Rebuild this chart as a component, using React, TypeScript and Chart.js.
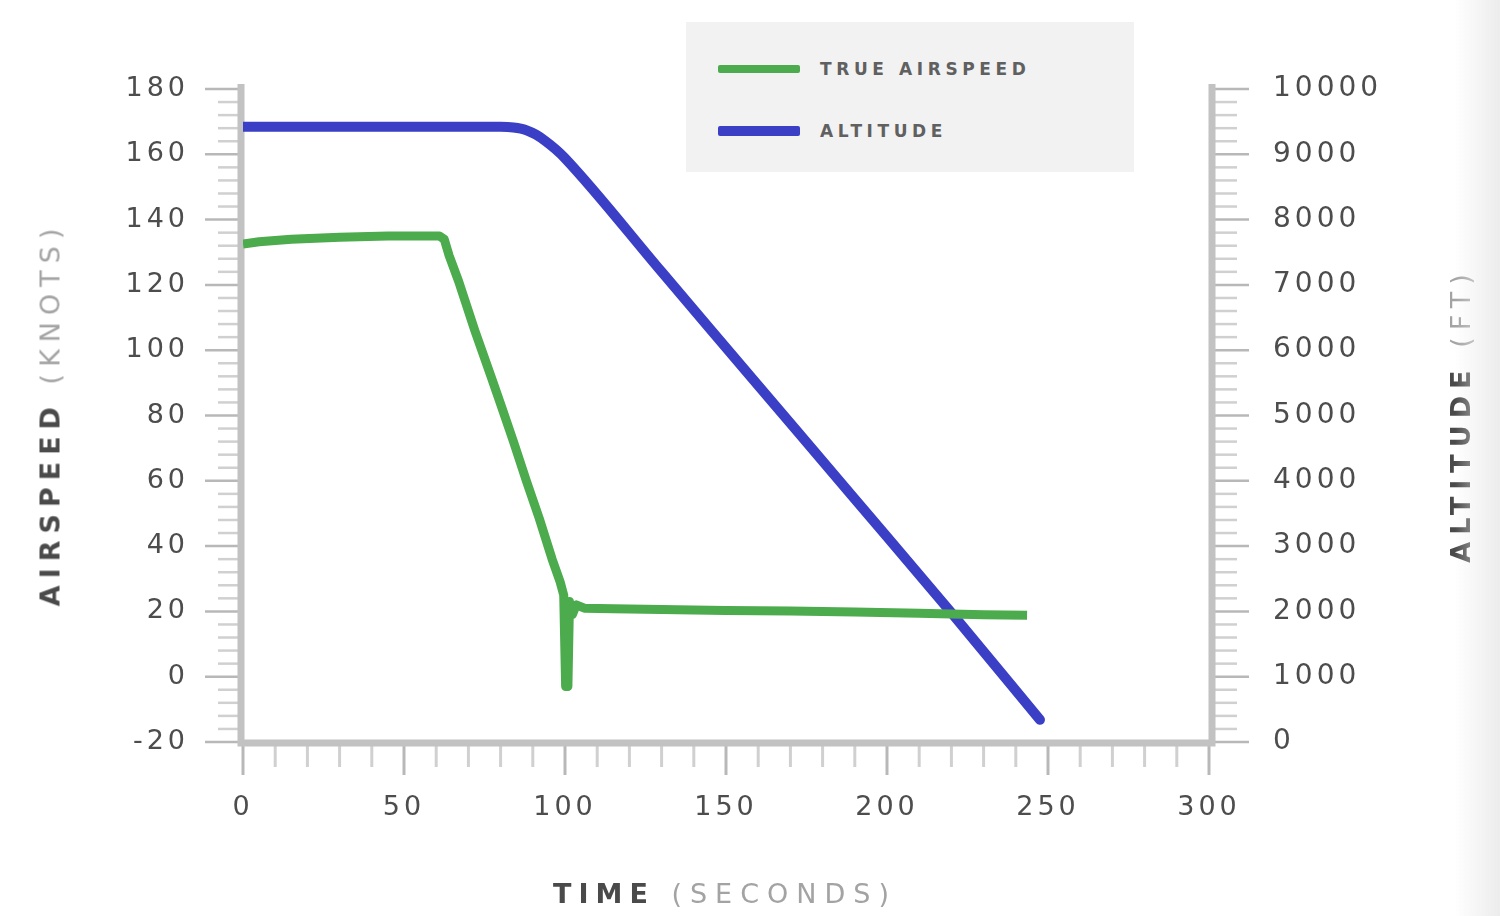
import React, { useEffect, useRef } from "react";
import { Chart, registerables } from "chart.js";

Chart.register(...registerables);

// ---- data ----
const airspeedTime = [0, 5, 15, 30, 45, 55, 61, 62.5, 64, 67, 72, 77, 80, 84, 88, 92, 96, 98.5, 99.6, 100.2, 100.9, 101.4, 102.3, 103.5, 106, 115, 130, 150, 170, 190, 210, 230, 243.5];
const airspeedKnots = [132.5, 133.2, 134, 134.6, 135, 135, 135, 134, 129, 121, 106, 92, 83.5, 72, 60, 48.5, 36, 29, 25, -3, -3, 23, 19, 22, 21, 20.8, 20.6, 20.3, 20.1, 19.8, 19.4, 19, 18.8];

const altitudeTime = [0, 20, 40, 60, 80, 84, 88, 91, 94, 97, 100, 130, 160, 190, 220, 247.5];
const altitudeFt = [9420, 9420, 9420, 9420, 9420, 9410, 9370, 9300, 9200, 9080, 8940, 7200, 5460, 3720, 1980, 340];

const xTickValues = [0, 50, 100, 150, 200, 250, 300];
const leftTickValues = [-20, 0, 20, 40, 60, 80, 100, 120, 140, 160, 180];
const rightTickValues = [0, 1000, 2000, 3000, 4000, 5000, 6000, 7000, 8000, 9000, 10000];

const seriesNames = ["TRUE AIRSPEED", "ALTITUDE"];
const seriesColors = ["#4cab4c", "#3a3fc6"];

const AXIS_COLOR = "#c2c2c2";
const MAJOR_TICK = "#b8b8b8";
const MINOR_TICK = "#d0d0d0";
const LABEL_COLOR = "#4d4d4d";

const axisPlugin = {
  id: "customAxes",
  beforeDraw(chart: any) {
    chart.ctx.letterSpacing = "4px";
  },
  beforeDatasetsDraw(chart: any) {
    const { ctx, chartArea, scales } = chart;
    const xs = scales.x;
    const yl = scales.y;
    const yr = scales.y1;
    ctx.save();
    ctx.lineCap = "butt";
    for (let v = -20; v <= 180; v += 4) {
      const p = yl.getPixelForValue(v);
      const major = v % 20 === 0;
      ctx.strokeStyle = major ? MAJOR_TICK : MINOR_TICK;
      ctx.lineWidth = 2.5;
      ctx.beginPath();
      ctx.moveTo(major ? chartArea.left - 38 : chartArea.left - 25, p);
      ctx.lineTo(chartArea.left - 4, p);
      ctx.stroke();
    }
    for (let v = 0; v <= 10000; v += 200) {
      const p = yr.getPixelForValue(v);
      const major = v % 1000 === 0;
      ctx.strokeStyle = major ? MAJOR_TICK : MINOR_TICK;
      ctx.lineWidth = 2.5;
      ctx.beginPath();
      ctx.moveTo(chartArea.right + 5, p);
      ctx.lineTo(major ? chartArea.right + 40 : chartArea.right + 28, p);
      ctx.stroke();
    }
    for (let v = 0; v <= 300; v += 10) {
      const p = xs.getPixelForValue(v);
      const major = v % 50 === 0;
      ctx.strokeStyle = major ? MAJOR_TICK : MINOR_TICK;
      ctx.lineWidth = 3;
      ctx.beginPath();
      ctx.moveTo(p, chartArea.bottom + 1);
      ctx.lineTo(p, major ? chartArea.bottom + 33 : chartArea.bottom + 25);
      ctx.stroke();
    }
    ctx.strokeStyle = AXIS_COLOR;
    ctx.lineWidth = 7;
    ctx.beginPath();
    ctx.moveTo(chartArea.left - 2, chartArea.top - 5);
    ctx.lineTo(chartArea.left - 2, chartArea.bottom + 1);
    ctx.lineTo(chartArea.right + 3, chartArea.bottom + 1);
    ctx.lineTo(chartArea.right + 3, chartArea.top - 5);
    ctx.stroke();
    ctx.restore();
  },
};

export default function App() {
  const canvasRef = useRef<HTMLCanvasElement | null>(null);

  useEffect(() => {
    document.body.style.margin = "0";
    const canvas = canvasRef.current;
    if (!canvas) return;
    const tickFont = { family: "'DejaVu Sans', sans-serif", size: 27 };
    const plain = (v: any) => String(v);
    const chart = new Chart(canvas, {
      type: "line",
      data: {
        datasets: [
          {
            label: seriesNames[0],
            data: airspeedTime.map((t, i) => ({ x: t, y: airspeedKnots[i] })),
            borderColor: seriesColors[0],
            backgroundColor: seriesColors[0],
            borderWidth: 9,
            pointRadius: 0,
            tension: 0,
            borderCapStyle: "butt",
            borderJoinStyle: "round",
            yAxisID: "y",
          },
          {
            label: seriesNames[1],
            data: altitudeTime.map((t, i) => ({ x: t, y: altitudeFt[i] })),
            borderColor: seriesColors[1],
            backgroundColor: seriesColors[1],
            borderWidth: 10,
            pointRadius: 0,
            cubicInterpolationMode: "monotone",
            borderCapStyle: "round",
            yAxisID: "y1",
          },
        ],
      },
      options: {
        responsive: false,
        animation: false,
        devicePixelRatio: 1,
        layout: { padding: { top: 89, left: 0, right: 0, bottom: 0 } },
        plugins: { legend: { display: false }, tooltip: { enabled: false }, title: { display: false } },
        scales: {
          x: {
            type: "linear",
            position: "bottom",
            min: 0,
            max: 300,
            afterBuildTicks: (s: any) => { s.ticks = xTickValues.map((v) => ({ value: v })); },
            afterFit: (s: any) => { s.height = 916 - 742; },
            grid: { display: false, drawTicks: false },
            border: { display: false },
            ticks: { color: LABEL_COLOR, font: tickFont, padding: 50, maxRotation: 0, autoSkip: false, callback: plain },
          },
          y: {
            type: "linear",
            position: "left",
            min: -20,
            max: 180,
            afterBuildTicks: (s: any) => { s.ticks = leftTickValues.map((v) => ({ value: v })); },
            afterFit: (s: any) => { s.width = 243; },
            grid: { display: false, drawTicks: false },
            border: { display: false },
            ticks: { color: LABEL_COLOR, font: tickFont, padding: 54, autoSkip: false, callback: plain },
          },
          y1: {
            type: "linear",
            position: "right",
            min: 0,
            max: 10000,
            afterBuildTicks: (s: any) => { s.ticks = rightTickValues.map((v) => ({ value: v })); },
            afterFit: (s: any) => { s.width = 1500 - 1209; },
            grid: { display: false, drawTicks: false },
            border: { display: false },
            ticks: { color: LABEL_COLOR, font: { ...tickFont, size: 28 }, padding: 64, autoSkip: false, callback: plain },
          },
        },
      },
      plugins: [axisPlugin],
    } as any);
    return () => chart.destroy();
  }, []);

  const boldStyle: React.CSSProperties = { fontWeight: 700, color: "#4a4a4a" };
  const lightStyle: React.CSSProperties = { fontWeight: 400, color: "#a3a3a3" };
  const titleBase: React.CSSProperties = {
    position: "absolute",
    fontFamily: "'DejaVu Sans', sans-serif",
    fontSize: 27,
    whiteSpace: "nowrap",
    lineHeight: 1,
  };

  return (
    <div style={{ position: "absolute", left: 0, top: 0, width: 1500, height: 916, background: "#fff", overflow: "hidden" }}>
      <canvas ref={canvasRef} width={1500} height={916} style={{ position: "absolute", left: 0, top: 0 }} />
      <div style={{ position: "absolute", left: 686, top: 22, width: 448, height: 150, background: "#f2f2f2" }}>
        {seriesNames.map((name, i) => (
          <div key={name} style={{ position: "absolute", left: 32, top: i === 0 ? 47 : 109, height: 0 }}>
            <div style={{ position: "absolute", left: 0, top: i === 0 ? -4 : -5, width: 82, height: i === 0 ? 8 : 10, background: seriesColors[i], borderRadius: 2 }} />
            <div style={{ position: "absolute", left: 102, top: -10, fontFamily: "'DejaVu Sans', sans-serif", fontWeight: 700, fontSize: 17, letterSpacing: 4.6, color: "#606060", whiteSpace: "nowrap", lineHeight: "20px" }}>{name}</div>
          </div>
        ))}
      </div>
      <div style={{ ...titleBase, left: 50, top: 414, transform: "translate(-50%, -50%) rotate(-90deg)", letterSpacing: 7 }}>
        <span style={boldStyle}>AIRSPEED</span>
        <span style={lightStyle}> (KNOTS)</span>
      </div>
      <div style={{ ...titleBase, left: 1460, top: 415, transform: "translate(-50%, -50%) rotate(-90deg)", letterSpacing: 7 }}>
        <span style={boldStyle}>ALTITUDE</span>
        <span style={lightStyle}> (FT)</span>
      </div>
      <div style={{ ...titleBase, left: 725, top: 893, transform: "translate(-50%, -50%)", letterSpacing: 7 }}>
        <span style={boldStyle}>TIME</span>
        <span style={{ ...lightStyle, letterSpacing: 8 }}> (SECONDS)</span>
      </div>
      <div style={{ position: "absolute", left: 1455, top: 0, width: 45, height: 916, background: "linear-gradient(to right, rgba(235,235,235,0), #ececec)" }} />
    </div>
  );
}
